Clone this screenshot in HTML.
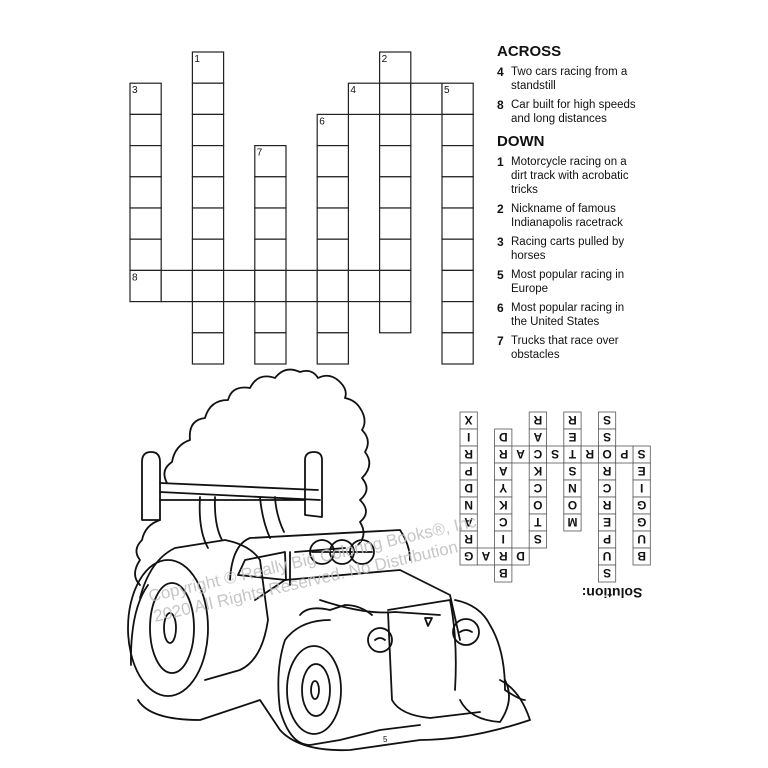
<!DOCTYPE html>
<html><head><meta charset="utf-8"><style>
html,body{margin:0;padding:0;background:#fff;width:768px;height:768px;overflow:hidden}
svg{position:absolute;left:0;top:0}
.c{position:absolute;font-family:"Liberation Sans",sans-serif;font-size:11.5px;color:#111;line-height:14px}
.h{position:absolute;font-family:"Liberation Sans",sans-serif;font-size:15px;font-weight:bold;color:#111}
.n{position:absolute;font-family:"Liberation Sans",sans-serif;font-size:12px;font-weight:bold;color:#111}
</style></head><body>
<svg width="768" height="768" viewBox="0 0 768 768">
<g fill="#fff" stroke="#222" stroke-width="1.2" id="grid"></g>
<g font-family="Liberation Sans,sans-serif" font-size="10" fill="#111" id="nums"></g>
<g id="sol" font-family="Liberation Sans,sans-serif" font-size="12" font-weight="bold" fill="#111"></g>
<text x="612" y="596" transform="rotate(180 612 592)" font-family="Liberation Sans,sans-serif" font-size="14" font-weight="bold" text-anchor="middle" fill="#111">Solution:</text>
<!-- drawing -->
<g fill="none" stroke="#111" stroke-width="1.8" stroke-linejoin="round" stroke-linecap="round">
<path d="M167 483 Q160 470 172 462 Q175 445 190 440 Q188 420 205 418 Q210 400 228 400 Q232 385 250 388 Q258 372 275 378 Q285 365 300 372 Q312 368 318 378 Q330 372 340 382 Q348 390 345 398 Q355 400 360 408 Q368 420 362 430 Q372 440 365 452 Q375 465 362 478 Q372 490 360 500 Q372 512 360 522 Q368 535 358 545"/>
<path d="M160 520 Q145 525 142 540 Q132 550 140 560 Q130 575 140 585"/>
<path d="M142 520 L142 462 Q142 452 151 452 Q160 452 160 462 L160 520 Z"/>
<path d="M305 515 L305 460 Q305 452 314 452 Q322 452 322 460 L322 517 Z"/>
<path d="M160 483 L318 490 M160 492 L320 500 M160 500 L305 500"/>
<path d="M200 497 Q198 530 208 548 M215 497 Q214 525 222 540"/>
<path d="M260 497 Q262 520 270 538 M275 497 Q276 515 284 532"/>
<path d="M140 598 Q150 560 175 548 L225 540 Q250 545 260 560 L268 620 Q262 660 240 670 L205 680"/>
<path d="M131 665 Q130 610 148 585"/>
<ellipse cx="168" cy="628" rx="40" ry="68"/>
<ellipse cx="172" cy="628" rx="22" ry="45"/>
<ellipse cx="170" cy="628" rx="6" ry="15"/>
<path d="M230 580 Q232 545 250 538 L400 530 Q410 545 410 560"/>
<path d="M238 575 L245 560 L285 552 L286 580 Z"/>
<path d="M290 552 L290 585 M295 552 L345 548"/>
<path d="M255 600 L285 580 L400 570 L450 595 L460 640"/>
<path d="M320 600 Q365 615 395 612 L440 615"/>
<path d="M388 612 L392 700 Q400 715 430 718 L480 712"/>
<path d="M388 610 L450 600 Q458 640 455 690"/>
<path d="M455 600 Q480 605 490 625 Q505 650 505 690 Q520 700 525 700"/>
<path d="M330 620 Q300 620 285 640 Q275 670 280 710 Q290 745 310 745 L340 740 L380 730 L420 725"/>
<ellipse cx="314" cy="690" rx="27" ry="44"/>
<ellipse cx="316" cy="690" rx="14" ry="26"/>
<ellipse cx="315" cy="690" rx="4" ry="9"/>
<path d="M138 700 Q150 720 200 720 L260 700 L280 730 Q300 752 350 750 L420 740 Q470 740 530 720 Q520 690 500 680"/>
<path d="M460 700 Q470 720 500 722 Q515 700 505 680"/>
<circle cx="322" cy="552" r="12"/><circle cx="342" cy="552" r="12"/><circle cx="362" cy="552" r="12"/>
<path d="M312 552 L332 552 M332 552 L352 552 M352 552 L372 552"/>
<circle cx="380" cy="640" r="12"/><circle cx="466" cy="632" r="13"/>
<path d="M375 640 Q380 636 385 640 M460 632 Q466 628 472 632"/>
<path d="M425 618 L432 618 L428 626 Z"/>
<path d="M300 615 Q308 605 330 610 L345 605 Q360 605 372 615"/>
</g>
<g font-family="Liberation Sans,sans-serif" font-size="17" fill="#bdbdbd" opacity="0.85">
<text x="150" y="602" transform="rotate(-13 150 602)">Copyright © Really Big Coloring Books®, Inc</text>
<text x="155" y="622" transform="rotate(-13 155 622)">2020 All Rights Reserved. No Distribution</text>
</g>
<text x="383" y="742" font-family="Liberation Sans,sans-serif" font-size="8" fill="#111">5</text>
</svg>
<div class="h" style="left:497px;top:43px">ACROSS</div>
<div class="n" style="left:497px;top:65px">4</div><div class="c" style="left:511px;top:65px">Two cars racing from a<br>standstill</div>
<div class="n" style="left:497px;top:98px">8</div><div class="c" style="left:511px;top:98px">Car built for high speeds<br>and long distances</div>
<div class="h" style="left:497px;top:133px">DOWN</div>
<div class="n" style="left:497px;top:155px">1</div><div class="c" style="left:511px;top:155px">Motorcycle racing on a<br>dirt track with acrobatic<br>tricks</div>
<div class="n" style="left:497px;top:202px">2</div><div class="c" style="left:511px;top:202px">Nickname of famous<br>Indianapolis racetrack</div>
<div class="n" style="left:497px;top:235px">3</div><div class="c" style="left:511px;top:235px">Racing carts pulled by<br>horses</div>
<div class="n" style="left:497px;top:268px">5</div><div class="c" style="left:511px;top:268px">Most popular racing in<br>Europe</div>
<div class="n" style="left:497px;top:301px">6</div><div class="c" style="left:511px;top:301px">Most popular racing in<br>the United States</div>
<div class="n" style="left:497px;top:334px">7</div><div class="c" style="left:511px;top:334px">Trucks that race over<br>obstacles</div>
<script>
var NS="http://www.w3.org/2000/svg";
var g=document.getElementById("grid"),nm=document.getElementById("nums"),sol=document.getElementById("sol");
var W=31.2;
var cols={0:[1,2,3,4,5,6,7],1:[7],2:[0,1,2,3,4,5,6,7,8,9],3:[7],4:[3,4,5,6,7,8,9],5:[7],6:[2,3,4,5,6,7,8,9],7:[1,7],8:[0,1,2,3,4,5,6,7,8],9:[1],10:[1,2,3,4,5,6,7,8,9]};
for(var c in cols){cols[c].forEach(function(r){var e=document.createElementNS(NS,"rect");e.setAttribute("x",130+W*c);e.setAttribute("y",52+W*r);e.setAttribute("width",W);e.setAttribute("height",W);g.appendChild(e);});}
[[1,2,0],[2,8,0],[3,0,1],[4,7,1],[5,10,1],[6,6,2],[7,4,3],[8,0,7]].forEach(function(a){var t=document.createElementNS(NS,"text");t.setAttribute("x",130+W*a[1]+2);t.setAttribute("y",52+W*a[2]+10);t.textContent=a[0];nm.appendChild(t);});
var S=[[0,0,"XIRPDNARG"],[2,1,"DRAYKCIRB"],[4,0,"RACKCOTS"],[6,0,"RETSNOM"],[8,0,"SSORCREPUS"],[10,2,"SEIGGUB"]];
var cells={};
S.forEach(function(s){for(var i=0;i<s[2].length;i++)cells[s[0]+","+(s[1]+i)]=s[2][i];});
var row2="  RACSTROPS";for(var i=2;i<=10;i++)cells[i+",2"]=row2[i];
"GARD".split("").forEach(function(ch,i){cells[i+",8"]=ch;});
var cw=17.3,ch=17;
for(var k in cells){var p=k.split(","),c=+p[0],r=+p[1];var x=460+cw*c,y=412+ch*r;
var e=document.createElementNS(NS,"rect");e.setAttribute("x",x);e.setAttribute("y",y);e.setAttribute("width",cw);e.setAttribute("height",ch);e.setAttribute("fill","#fff");e.setAttribute("stroke","#555");e.setAttribute("stroke-width","0.8");sol.appendChild(e);
var t=document.createElementNS(NS,"text");var cx=x+cw/2,cy=y+ch/2;t.setAttribute("x",cx);t.setAttribute("y",cy+4.3);t.setAttribute("text-anchor","middle");t.setAttribute("transform","rotate(180 "+cx+" "+cy+")");t.textContent=cells[k];sol.appendChild(t);}
</script>
</body></html>
